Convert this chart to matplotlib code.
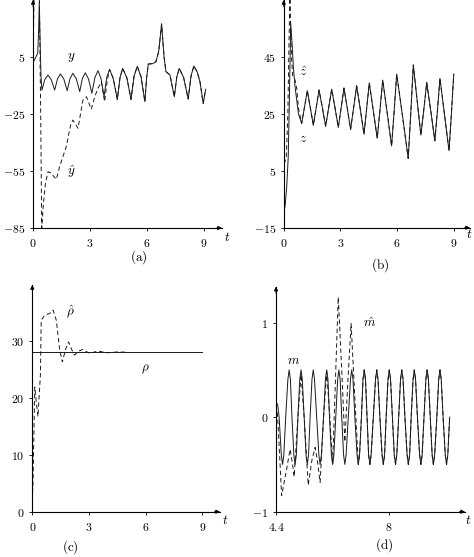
import matplotlib
matplotlib.use("Agg")
import matplotlib.pyplot as plt

plt.rcParams['mathtext.fontset'] = 'cm'
plt.rcParams['font.family'] = ['DejaVu Serif']

# ---------------- panel (a): y and y-hat ----------------
a_y_t = [0.0, 0.15, 0.25, 0.30, 0.33, 0.37, 0.42, 0.47, 0.62, 0.79, 0.96, 1.14, 1.29, 1.44,
         1.62, 1.80, 1.95, 2.10, 2.28, 2.46, 2.60, 2.75, 2.92, 3.10, 3.26, 3.42, 3.58, 3.74,
         3.88, 4.03, 4.22, 4.44, 4.58, 4.72, 4.94, 5.16, 5.32, 5.49, 5.69, 5.89, 5.98, 6.07,
         6.30, 6.47, 6.62, 6.77, 6.90, 7.00, 7.21, 7.44, 7.57, 7.70, 7.93, 8.17, 8.32, 8.47,
         8.65, 8.79, 8.96, 9.09]
a_y = [2, 5, 7, 20, 34, 15, -5, -12.4, -6.9, -4.5, -6.9, -12.4, -6.5, -3.9,
       -6.5, -12.7, -6.3, -3.6, -6.5, -13.2, -6.3, -3.3, -6.5, -14.1, -5.8, -2.2, -6.3, -15.9,
       -5.8, -1.5, -6.2, -17.3, -5.9, -1.0, -5.9, -17.3, -5.1, 0.1, -5.5, -18.5, -6.0, 1.3,
       1.5, 2.5, 8.0, 22.4, 5.0, -2.7, -4.5, -15.9, -5.5, -1.0, -5.8, -17.1, -4.9, 0.3,
       -3.0, -8.0, -19.4, -12.0]
a_yhat_t = [0.0, 0.06, 0.33, 0.40, 0.46, 0.55, 0.65, 0.79, 0.95, 1.10, 1.23, 1.40, 1.75, 1.98,
            2.10, 2.37, 2.63, 2.81, 3.07, 3.25, 3.42, 3.60, 3.77, 3.90, 4.03]
a_yhat = [2, 40, 40, -20, -85, -72, -62, -55.4, -56, -58, -59.4, -52.7, -42.2, -30.8,
          -28.2, -32.5, -17.6, -15.9, -22.5, -15.9, -11.5, -8.0, -18.5, -8.0, -1.5]

# ---------------- panel (b): z and z-hat ----------------
b_z_t = [0.0, 0.08, 0.16, 0.24, 0.30, 0.37, 0.44, 0.51, 0.60, 0.78, 0.95, 1.10, 1.25, 1.41,
         1.57, 1.72, 1.87, 2.05, 2.22, 2.38, 2.54, 2.72, 2.89, 3.04, 3.19, 3.37, 3.54, 3.70,
         3.86, 4.06, 4.25, 4.39, 4.53, 4.74, 4.95, 5.10, 5.24, 5.48, 5.71, 5.85, 5.98, 6.29,
         6.59, 6.73, 6.86, 7.06, 7.26, 7.42, 7.57, 7.79, 8.00, 8.14, 8.27, 8.51, 8.75, 8.88, 9.0]
b_z = [-10, -7, -0.6, 9.9, 29.8, 56.7, 50, 41.5, 34.5, 25, 21.6, 27.3, 33.1, 27,
       21.0, 27.1, 33.3, 27, 20.6, 27.1, 33.6, 26.9, 20.2, 27.1, 34.0, 26.7, 19.5, 27.1,
       34.8, 26.3, 17.8, 26.8, 35.8, 26.1, 16.4, 26.6, 36.8, 25.2, 13.7, 26.3, 38.9, 24.1,
       9.3, 25.7, 42.1, 29.8, 17.5, 26.7, 35.9, 25.7, 15.5, 26.4, 37.4, 24.7, 12.0, 25.4, 38.9]
b_zhat_t = [0.0, 0.06, 0.14, 0.22, 0.28, 0.33, 0.38, 0.42, 0.47, 0.55, 0.60, 0.69, 0.78, 0.95]
b_zhat = [8.5, 8.0, 10, 25, 50, 66, 52, 43.8, 38.6, 37.5, 36.8, 33.9, 27, 21.6]

# ---------------- panel (c): rho and rho-hat ----------------
c_rho_t = [0.0, 9.0]
c_rho = [28.0, 28.0]
c_rhohat_t = [0.0, 0.04, 0.13, 0.22, 0.30, 0.39, 0.43, 0.47, 0.66, 0.92, 1.10, 1.27, 1.45,
              1.59, 1.76, 1.92, 2.08, 2.24, 2.45, 2.68, 2.86, 3.04, 3.46, 3.99, 4.50, 5.00]
c_rhohat = [2, 5.6, 21.9, 19, 16.7, 21.9, 24, 33.6, 34.5, 34.8, 35.4, 33.6, 28.4,
            26.3, 28.5, 29.8, 28.5, 27.5, 28.2, 28.5, 28.1, 27.8, 28.2, 27.9, 28.05, 28.0]

# ---------------- panel (d): m and m-hat ----------------
d_m_t = [4.45, 4.50, 4.57, 4.61, 4.65, 4.71, 4.78, 4.82, 4.86, 4.91, 4.97, 5.01, 5.05, 5.10,
         5.16, 5.20, 5.24, 5.30, 5.36, 5.40, 5.44, 5.49, 5.55, 5.59, 5.63, 5.70, 5.77, 5.81,
         5.85, 5.92, 5.98, 6.02, 6.06, 6.11, 6.17, 6.21, 6.25, 6.31, 6.37, 6.41, 6.45, 6.50,
         6.56, 6.60, 6.64, 6.71, 6.78, 6.82, 6.86, 6.92, 6.99, 7.03, 7.07, 7.13, 7.18, 7.22,
         7.26, 7.31, 7.36, 7.40, 7.44, 7.51, 7.58, 7.62, 7.66, 7.72, 7.79, 7.83, 7.87, 7.92,
         7.98, 8.02, 8.06, 8.12, 8.18, 8.22, 8.26, 8.32, 8.38, 8.42, 8.46, 8.52, 8.59, 8.63,
         8.67, 8.72, 8.78, 8.82, 8.86, 8.92, 8.99, 9.03, 9.07, 9.13, 9.19, 9.23, 9.27, 9.33,
         9.39, 9.43, 9.47, 9.54, 9.60, 9.64, 9.68, 9.74, 9.81, 9.85, 9.89, 9.95]
d_m = [0.14, 0.0, -0.4, -0.5, -0.4, 0.0, 0.4, 0.5, 0.4, 0.0, -0.4, -0.5, -0.4, 0.0,
       0.4, 0.5, 0.4, 0.0, -0.4, -0.5, -0.4, 0.0, 0.4, 0.5, 0.4, 0.0, -0.4, -0.5,
       -0.4, 0.0, 0.4, 0.5, 0.4, 0.0, -0.4, -0.5, -0.4, 0.0, 0.4, 0.5, 0.4, 0.0,
       -0.4, -0.5, -0.4, 0.0, 0.4, 0.5, 0.4, 0.0, -0.4, -0.5, -0.4, 0.0, 0.4, 0.5,
       0.4, 0.0, -0.4, -0.5, -0.4, 0.0, 0.4, 0.5, 0.4, 0.0, -0.4, -0.5, -0.4, 0.0,
       0.4, 0.5, 0.4, 0.0, -0.4, -0.5, -0.4, 0.0, 0.4, 0.5, 0.4, 0.0, -0.4, -0.5,
       -0.4, 0.0, 0.4, 0.5, 0.4, 0.0, -0.4, -0.5, -0.4, 0.0, 0.4, 0.5, 0.4, 0.0,
       -0.4, -0.5, -0.4, 0.0, 0.4, 0.5, 0.4, 0.0, -0.4, -0.5, -0.4, 0.0]
d_mhat_t = [4.44, 4.47, 4.58, 4.74, 4.85, 4.93, 4.98, 5.10, 5.20, 5.30, 5.43, 5.55, 5.65,
            5.72, 5.81, 5.92, 6.02, 6.12, 6.21, 6.30, 6.39, 6.50, 6.60, 6.70, 6.80, 6.92, 7.03]
d_mhat = [0.05, -0.1, -0.83, -0.55, -0.34, -0.5, -0.63, 0.0, 0.45, 0.0, -0.72, -0.45, -0.32,
          -0.45, -0.69, 0.0, 0.48, 0.0, -0.5, 0.4, 1.27, 0.5, -0.26, 0.4, 0.99, 0.2, -0.5]

# estimates merge with the true signals afterwards
a_yhat_full_t = a_yhat_t + [t for t in a_y_t if t > a_yhat_t[-1]]
a_yhat_full = a_yhat + [v for t, v in zip(a_y_t, a_y) if t > a_yhat_t[-1]]
b_zhat_full_t = b_zhat_t + [t for t in b_z_t if t > b_zhat_t[-1]]
b_zhat_full = b_zhat + [v for t, v in zip(b_z_t, b_z) if t > b_zhat_t[-1]]
d_mhat_full_t = d_mhat_t + [t for t in d_m_t if t > d_mhat_t[-1]]
d_mhat_full = d_mhat + [v for t, v in zip(d_m_t, d_m) if t > d_mhat_t[-1]]

a_xticks = [0, 3, 6, 9]; a_yticks = [-85, -55, -25, 5]
b_xticks = [0, 3, 6, 9]; b_yticks = [-15, 5, 25, 45]
c_xticks = [0, 3, 6, 9]; c_yticks = [0, 10, 20, 30]
d_xticks = [4.4, 8]; d_yticks = [-1, 0, 1]

W, H = 474, 557
fig = plt.figure(figsize=(W / 100, H / 100), dpi=100)

def rect(x0, y0, x1, y1):
    # pixel box -> figure fraction
    return [x0 / W, 1 - y0 / H, (x1 - x0) / W, (y0 - y1) / H]

LW = 0.7
LC = '#1a1a1a'
DASH = (4.5, 3)
FS = 8.5

def style(ax, xlim, ylim, xt, yt):
    ax.set_xlim(*xlim)
    ax.set_ylim(*ylim)
    for s in ('top', 'right'):
        ax.spines[s].set_visible(False)
    for s in ('left', 'bottom'):
        ax.spines[s].set_linewidth(0.8)
    ax.set_xticks(xt)
    ax.set_yticks(yt)
    ax.set_xticklabels([f'${v}$' for v in xt], fontsize=FS)
    ax.set_yticklabels([f'${v}$' for v in yt], fontsize=FS)
    ax.tick_params(direction='out', length=2.5, width=0.6, pad=3)
    ax.tick_params(axis='x', pad=4)
    ax.patch.set_alpha(0)
    ap = dict(arrowstyle='-|>', lw=0.6, color='k', mutation_scale=6,
              shrinkA=0, shrinkB=0)
    ax.annotate('', xy=(1.0, 0), xytext=(0.97, 0), xycoords='axes fraction',
                textcoords='axes fraction', arrowprops=ap, annotation_clip=False)
    ax.annotate('', xy=(0, 1.0), xytext=(0, 0.97), xycoords='axes fraction',
                textcoords='axes fraction', arrowprops=ap, annotation_clip=False)

# (a)
axa = fig.add_axes(rect(33, 228, 222, 0))
axa.plot(a_y_t, a_y, color=LC, lw=LW)
axa.plot(a_yhat_full_t, a_yhat_full, color=LC, lw=LW, dashes=DASH)
style(axa, (0, 9.95), (-85, 35), a_xticks, a_yticks)
axa.text(2.0, 5, '$y$', fontsize=FS + 1, ha='center', va='center')
axa.text(2.0, -55.5, r'$\hat{y}$', fontsize=FS + 1, ha='center', va='center')
axa.text(1.01, -0.04, '$t$', transform=axa.transAxes, fontsize=FS + 1, ha='left', va='center')

# (b)
axb = fig.add_axes(rect(283.7, 227.7, 470, 0))
axb.plot(b_z_t, b_z, color=LC, lw=LW)
axb.plot(b_zhat_full_t, b_zhat_full, color=LC, lw=LW, dashes=DASH)
style(axb, (0, 9.86), (-15, 64.9), b_xticks, b_yticks)
axb.text(1.02, 39.6, r'$\hat{z}$', fontsize=FS + 1, ha='center', va='center')
axb.text(1.02, 16.4, '$z$', fontsize=FS + 1, ha='center', va='center')
fig.text(466 / W, 1 - 234 / H, '$t$', fontsize=FS + 1, ha='left', va='center')

# (c)
axc = fig.add_axes(rect(32.3, 511.7, 220, 285))
axc.plot(c_rho_t, c_rho, color=LC, lw=LW)
axc.plot(c_rhohat_t, c_rhohat, color=LC, lw=LW, dashes=DASH)
style(axc, (0, 9.93), (0, 39.8), c_xticks, c_yticks)
axc.text(2.0, 34.9, r'$\hat{\rho}$', fontsize=FS + 1, ha='center', va='center')
axc.text(5.96, 25, r'$\rho$', fontsize=FS + 1, ha='center', va='center')
axc.text(1.01, -0.037, '$t$', transform=axc.transAxes, fontsize=FS + 1, ha='left', va='center')

# (d)
axd = fig.add_axes(rect(276, 511.7, 465, 286.7))
axd.plot(d_m_t, d_m, color=LC, lw=LW)
axd.plot(d_mhat_full_t, d_mhat_full, color=LC, lw=LW, dashes=DASH)
style(axd, (4.4, 10.44), (-1, 1.38), d_xticks, d_yticks)
axd.text(4.975, 0.6, '$m$', fontsize=FS + 1, ha='center', va='center')
axd.text(7.4, 0.99, r'$\hat{m}$', fontsize=FS + 1, ha='center', va='center')
axd.text(1.0, -0.037, '$t$', transform=axd.transAxes, fontsize=FS + 1, ha='left', va='center')

# sub-captions
for lab, (px, py) in zip(['a', 'b', 'c', 'd'],
                         [(139, 257), (380, 265), (70, 547), (384, 545)]):
    fig.text(px / W, 1 - py / H, r'$\mathrm{(' + lab + r')}$', fontsize=FS + 1,
             ha='center', va='center')

fig.savefig('out.png', dpi=100)
